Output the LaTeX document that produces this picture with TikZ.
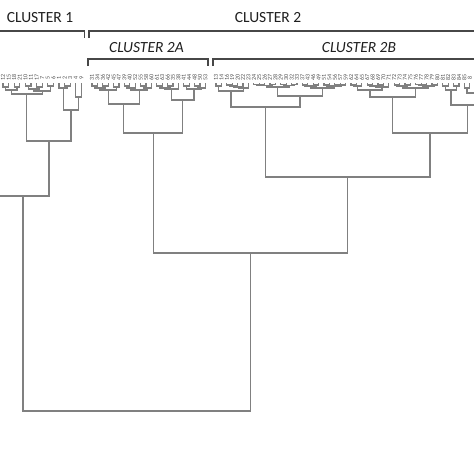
\documentclass[tikz,border=0pt]{standalone}
\usepackage{fontspec}
\setmainfont{Carlito}
\newcommand\dgj[5]{\draw[dgline] (#1,#2) -- (#1,#5) -- (#3,#5) -- (#3,#4);}
\begin{document}
\begin{tikzpicture}[x=1pt,y=-1pt,
  dgline/.style={draw=black!50, line width=1.35pt, line join=miter},
  brk/.style={draw=black!72, line width=1.3pt},
  ctitle/.style={font=\fontsize{15.5}{15.5}\selectfont, text=black!88, inner sep=0pt},
  lab/.style={font=\fontsize{6}{6}\selectfont, text=black!70, rotate=90, inner sep=0pt}]
\path[use as bounding box] (0,0) rectangle (474,474);
\clip (0,0) rectangle (474,474);
\fill[white] (0,0) rectangle (474,474);

% titles
\node[ctitle] (c1) at (40,18) {CLUSTER 1};
\node[ctitle] (c2) at (268,18) {CLUSTER 2};
\node[ctitle, font=\fontsize{15.5}{15.5}\selectfont\itshape] (c2a) at (146.5,48) {CLUSTER 2A};
\node[ctitle, font=\fontsize{15.5}{15.5}\selectfont\itshape] (c2b) at (359,48) {CLUSTER 2B};

% brackets
\draw[brk] (-2,31) -- (84.5,31) -- (84.5,38);
\draw[brk] (89,38) -- (89,31) -- (476,31);
\draw[brk] (88,66) -- (88,59) -- (208,59) -- (208,66);
\draw[brk] (213,66) -- (213,59) -- (476,59);

% leaf labels
\foreach \n [count=\i from 0] in {12,15,18,21,10,11,17,7,5,6,1,2,3,4,9}
  \node[lab] (la\i) at ({3+5.6*\i},77.5) {\n};
\foreach \n [count=\i from 0] in {31,34,36,42,45,47,39,40,52,55,58,60,61,63,66,35,38,41,44,48,50,53}
  \node[lab] (lb\i) at ({92+5.4*\i},77.5) {\n};
\foreach \n [count=\i from 0] in {13,14,16,19,20,22,23,24,25,26,27,28,29,30,32,33,37,43,46,49,51,54,56,57,59,62,64,65,67,68,69,70,71,72,73,74,75,76,77,78,79,80,81,82,83,84,85,8}
  \node[lab] (lc\i) at ({216+5.4*\i},77.5) {\n};

% cluster 1
\dgj{3}{83}{8.6}{83}{87}
\dgj{14.2}{83}{19.8}{83}{87}
\dgj{5.8}{87}{17}{87}{90}
\dgj{25.4}{83}{31}{83}{86}
\dgj{36.6}{83}{42.2}{83}{87}
\dgj{28.2}{86}{39.4}{87}{89}
\dgj{47.8}{83}{53.4}{83}{86}
\dgj{33.8}{89}{50.6}{86}{91}
\dgj{11.4}{90}{42.2}{91}{94}
\dgj{64.6}{83}{70.2}{83}{86}
\dgj{59}{83}{67.4}{86}{88}
\dgj{75.8}{83}{81.4}{83}{97}
\dgj{63.2}{88}{78.6}{97}{110}
\dgj{26.8}{94}{70.9}{110}{141}
\dgj{-3}{150}{48.85}{141}{196}

% cluster 2A
\dgj{92}{83}{97.4}{83}{86}
\dgj{102.8}{83}{108.2}{83}{86}
\dgj{94.7}{86}{105.5}{86}{88}
\dgj{113.6}{83}{119}{83}{87}
\dgj{100.1}{88}{116.3}{87}{90}
\dgj{124.4}{83}{129.8}{83}{86}
\dgj{127.1}{86}{135.2}{83}{88}
\dgj{140.6}{83}{146}{83}{86}
\dgj{143.3}{86}{151.4}{83}{88}
\dgj{131.15}{88}{147.35}{88}{90}
\dgj{108.2}{90}{139.25}{90}{104}
\dgj{156.8}{83}{162.2}{83}{86}
\dgj{167.6}{83}{173}{83}{86}
\dgj{159.5}{86}{170.3}{86}{88}
\dgj{164.9}{88}{178.4}{83}{89}
\dgj{183.8}{83}{189.2}{83}{86}
\dgj{194.6}{83}{200}{83}{86}
\dgj{197.3}{86}{205.4}{83}{88}
\dgj{186.5}{86}{201.35}{88}{89}
\dgj{171.65}{89}{193.9}{89}{100}
\dgj{123.7}{104}{182.8}{100}{133}

% cluster 2B : E
\dgj{216}{83}{221.4}{83}{86}
\dgj{226.8}{83}{232.2}{83}{85}
\dgj{229.5}{85}{237.6}{83}{86}
\dgj{233.55}{86}{243}{83}{87}
\dgj{238.3}{87}{248.4}{83}{88}
\dgj{218.7}{86}{243.35}{88}{91}
% F
\dgj{253.8}{83}{259.2}{83}{84.5}
\dgj{256.5}{84.5}{264.6}{83}{85}
\dgj{270}{83}{275.4}{83}{84.5}
\dgj{260.55}{85}{272.7}{84.5}{85.5}
\dgj{280.8}{83}{286.2}{83}{84.5}
\dgj{291.6}{83}{297}{83}{84.5}
\dgj{283.5}{84.5}{294.3}{84.5}{85.5}
\dgj{266.6}{85.5}{288.9}{85.5}{87}
% G
\dgj{302.4}{83}{307.8}{83}{85}
\dgj{313.2}{83}{318.6}{83}{85}
\dgj{305.1}{85}{315.9}{85}{86}
\dgj{324}{83}{329.4}{83}{85}
\dgj{334.8}{83}{340.2}{83}{84.5}
\dgj{337.5}{84.5}{345.6}{83}{85}
\dgj{326.7}{85}{341.55}{85}{86}
\dgj{310.5}{86}{334.1}{86}{88}
\dgj{277.75}{87}{322.3}{88}{96}
\dgj{231.0}{91}{300.0}{96}{107}
% H
\dgj{351}{83}{356.4}{83}{85}
\dgj{353.7}{85}{361.8}{83}{86}
\dgj{367.2}{83}{372.6}{83}{85}
\dgj{378}{83}{383.4}{83}{85}
\dgj{369.9}{85}{380.7}{85}{86}
\dgj{375.3}{86}{388.8}{83}{87}
\dgj{357.75}{86}{382.05}{87}{90}
% I
\dgj{394.2}{83}{399.6}{83}{85}
\dgj{405}{83}{410.4}{83}{85}
\dgj{396.9}{85}{407.7}{85}{86}
\dgj{415.8}{83}{421.2}{83}{84.5}
\dgj{418.5}{84.5}{426.6}{83}{85}
\dgj{432}{83}{437.4}{83}{85}
\dgj{422.55}{85}{434.7}{85}{86}
\dgj{402.3}{86}{428.6}{86}{88}
\dgj{369.9}{90}{415.5}{88}{97}
% J, K
\dgj{442.8}{83}{448.2}{83}{86}
\dgj{453.6}{83}{459}{83}{86}
\dgj{445.5}{86}{456.3}{86}{90}
\dgj{464.4}{83}{469.8}{83}{88}
\draw[dgline] (467.1,88) -- (467.1,93) -- (490,93);
\dgj{450.9}{90}{484}{95}{105}
\dgj{392.7}{97}{467.45}{105}{133}
\dgj{265.5}{107}{430.1}{133}{177}
\dgj{153.25}{133}{347.8}{177}{253}

% root
\dgj{22.9}{196}{250.5}{253}{411}
\end{tikzpicture}
\end{document}
